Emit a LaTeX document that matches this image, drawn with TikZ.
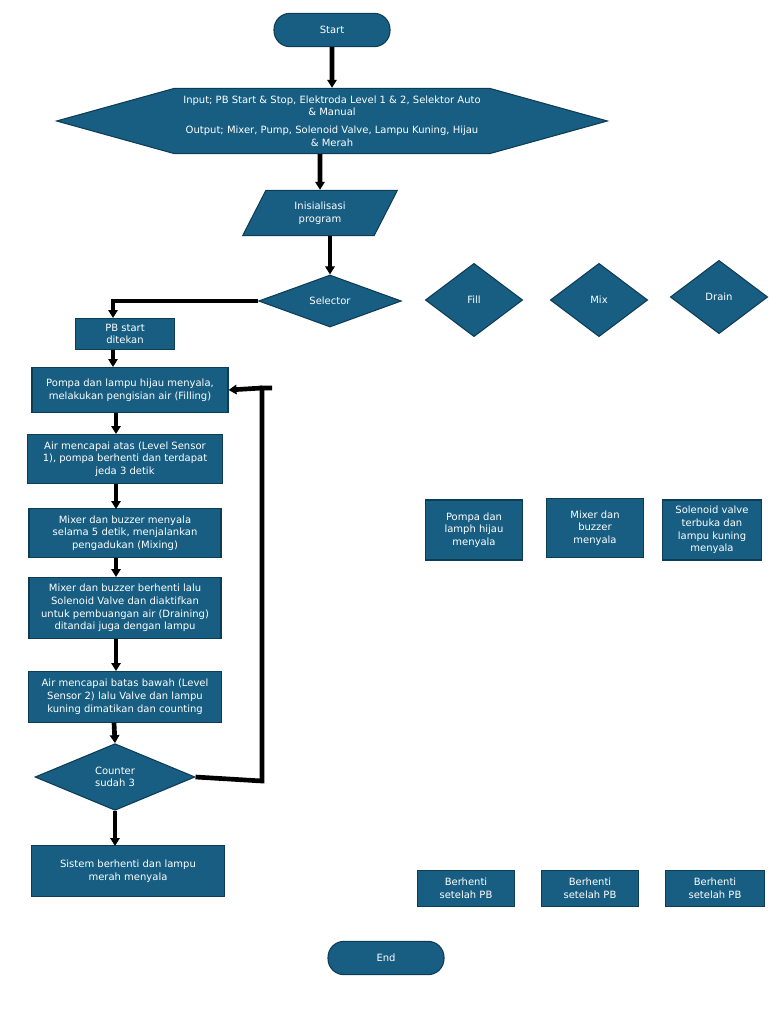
\documentclass[tikz,border=0pt]{standalone}
\usepackage{fontspec}
\setmainfont{DejaVu Sans}
\usetikzlibrary{shapes.geometric,shapes.symbols,arrows.meta}
\definecolor{box_blue}{HTML}{175E82}
\definecolor{box_edge}{HTML}{0D3C55}
\begin{document}
\begin{tikzpicture}[x=0.75pt,y=-0.75pt,
    blk/.style={draw=box_edge, fill=box_blue, text=white, line width=0.8pt,
        font=\fontsize{7.5}{9.5}\selectfont, align=center, inner sep=2pt},
    term/.style={blk, rounded corners=12pt, minimum width=87pt, minimum height=25pt},
    box/.style={blk, rectangle},
    dia/.style={blk, diamond, aspect=1.35, inner sep=0pt},
    flow/.style={line width=3.5pt, -{Triangle[length=6pt,width=7pt]}}]
    \useasboundingbox (0,0) rectangle (768,1024);

    \node[term] (start) at (332,30) {Start};
    \node[blk, signal, signal to=east and west, signal pointer angle=31,
        minimum width=413pt, minimum height=49pt] (io) at (332,121)
        {Input; PB Start \& Stop, Elektroda Level 1 \& 2, Selektor Auto\\\& Manual\\[4pt]
         Output; Mixer, Pump, Solenoid Valve, Lampu Kuning, Hijau\\\& Merah};
    \node[blk, trapezium, trapezium left angle=50, trapezium right angle=130,
        minimum width=116pt, minimum height=34pt, trapezium stretches body] (init) at (320,213)
        {Inisialisasi\\program};
    \node[dia, minimum width=107pt, minimum height=39pt, aspect=2.7] (sel) at (330,301) {Selector};
    \node[dia, minimum width=73pt, minimum height=55pt] (fill) at (474,300) {Fill};
    \node[dia, minimum width=73pt, minimum height=55pt] (mix) at (599,300) {Mix};
    \node[dia, minimum width=73pt, minimum height=55pt] (drain) at (719,297) {Drain};

    \node[box, minimum width=74pt, minimum height=23pt] (pb) at (125,334) {PB start\\ditekan};
    \node[box, minimum width=147pt, minimum height=34pt] (pompa) at (130,390)
        {Pompa dan lampu hijau menyala,\\melakukan pengisian air (Filling)};
    \node[box, minimum width=146pt, minimum height=37pt, anchor=north] (atas) at (125,434)
        {Air mencapai atas (Level Sensor\\1), pompa berhenti dan terdapat\\jeda 3 detik};
    \node[box, minimum width=144pt, minimum height=37pt] (mixer) at (125,533)
        {Mixer dan buzzer menyala\\selama 5 detik, menjalankan\\pengadukan (Mixing)};
    \node[box, minimum width=144pt, minimum height=46pt, anchor=north] (drainbox) at (125,577)
        {Mixer dan buzzer berhenti lalu\\Solenoid Valve dan diaktifkan\\untuk pembuangan air (Draining)\\ditandai juga dengan lampu};
    \node[box, minimum width=145pt, minimum height=38pt, anchor=north] (bawah) at (125,671)
        {Air mencapai batas bawah (Level\\Sensor 2) lalu Valve dan lampu\\kuning dimatikan dan counting};
    \node[dia, minimum width=120pt, minimum height=50pt, aspect=2.4] (count) at (115,777) {Counter\\sudah 3};
    \node[box, minimum width=145pt, minimum height=38pt] (stop) at (128,871)
        {Sistem berhenti dan lampu\\merah menyala};
    \node[term] (end) at (386,958) {End};

    \node[box, minimum width=73pt, minimum height=45pt] (fillact) at (474,530) {Pompa dan\\lamph hijau\\menyala};
    \node[box, minimum width=73pt, minimum height=44pt] (mixact) at (595,528) {Mixer dan\\buzzer\\menyala};
    \node[box, minimum width=74pt, minimum height=45pt] (drainact) at (712,530) {Solenoid valve\\terbuka dan\\lampu kuning\\menyala};
    \node[box, minimum width=73pt, minimum height=27pt, anchor=north] (fillstop) at (466,870) {Berhenti\\setelah PB};
    \node[box, minimum width=73pt, minimum height=27pt, anchor=north] (mixstop) at (590,870) {Berhenti\\setelah PB};
    \node[box, minimum width=74pt, minimum height=27pt, anchor=north] (drainstop) at (715,870) {Berhenti\\setelah PB};

    \draw[flow] (start) -- (io);
    \draw[flow] (io.south -| init) -- (init);
    \draw[flow] (init.south -| sel) -- (sel);
    \draw[flow] (sel.west) -| (113,318);
    \draw[flow] (pb.south -| 113,0) -- (113,367);
    \draw[flow] (pompa.south -| 116,0) -- (116,434);
    \draw[flow] (atas.south -| 116,0) -- (116,509);
    \draw[flow] (mixer.south -| 116,0) -- (116,577);
    \draw[flow] (drainbox.south -| 116,0) -- (116,671);
    \draw[flow] (bawah.south -| 114,0) -- (count.north);
    \draw[flow] (count.south) -- (115,846);
    \draw[line width=3.5pt] (count.east) -- (262,781) -- (262,388) -- (272,388);
    \draw[flow] (262,388) -- (pompa.east);
\end{tikzpicture}
\end{document}
